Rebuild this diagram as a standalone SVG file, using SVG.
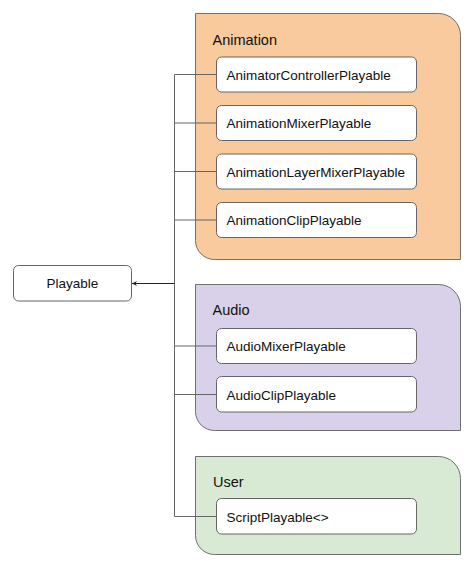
<svg xmlns="http://www.w3.org/2000/svg" width="474" height="567" viewBox="0 0 474 567">
<style>
.grp{stroke:#6f6f6f;stroke-width:1}
.box{fill:#ffffff;stroke:#666666;stroke-width:1}
.t{font-family:"Liberation Sans",Arial,sans-serif;font-size:13.5px;fill:#111111}
.h{font-family:"Liberation Sans",Arial,sans-serif;font-size:14.5px;fill:#111111}
.c{fill:none;stroke:#666666;stroke-width:1}
</style>
<defs>
<marker id="arr" markerWidth="6" markerHeight="6" refX="5" refY="3" orient="auto" markerUnits="userSpaceOnUse">
<path d="M5,3 L0,0.5 L1.5,3 L0,5.5 Z" fill="#222222"/>
</marker>
</defs>
<rect width="474" height="567" fill="#ffffff"/>
<g id="group-animation">
<path class="grp" fill="#f8ca9d" d="M195.5,13.5 H438.5 A22,22 0 0 1 460.5,35.5 V259.5 H214.5 A19,19 0 0 1 195.5,240.5 Z"/>
<text class="h" x="212.5" y="45">Animation</text>
</g>
<g id="group-audio">
<path class="grp" fill="#d9d1e9" d="M195.5,284.5 H438.5 A22,22 0 0 1 460.5,306.5 V430.5 H214.5 A19,19 0 0 1 195.5,411.5 Z"/>
<text class="h" x="212.5" y="315">Audio</text>
</g>
<g id="group-user">
<path class="grp" fill="#d8e9d4" d="M195.5,456.5 H438.5 A22,22 0 0 1 460.5,478.5 V554.5 H214.5 A19,19 0 0 1 195.5,535.5 Z"/>
<text class="h" x="213" y="487">User</text>
</g>
<g id="connectors">
<path class="c" d="M174.5,74.5 V516.5"/>
<path class="c" d="M174.5,74.5 H216.5"/>
<path class="c" d="M174.5,123 H216.5"/>
<path class="c" d="M174.5,171.5 H216.5"/>
<path class="c" d="M174.5,220 H216.5"/>
<path class="c" d="M174.5,346 H216.5"/>
<path class="c" d="M174.5,394.5 H216.5"/>
<path class="c" d="M174.5,516.5 H216.5"/>
<path d="M174.5,283.5 H132" fill="none" stroke="#222222" stroke-width="1" marker-end="url(#arr)"/>
</g>
<g id="node-playable">
<rect class="box" x="13.5" y="265.5" width="118" height="35.5" rx="5"/>
<text class="t" x="72.5" y="288" text-anchor="middle">Playable</text>
</g>
<g id="node-animatorcontroller">
<rect class="box" x="216.5" y="57" width="200" height="35" rx="5"/>
<text class="t" x="226.5" y="79.5">AnimatorControllerPlayable</text>
</g>
<g id="node-animationmixer">
<rect class="box" x="216.5" y="105.5" width="200" height="35" rx="5"/>
<text class="t" x="226.5" y="128">AnimationMixerPlayable</text>
</g>
<g id="node-animationlayermixer">
<rect class="box" x="216.5" y="154" width="200" height="35" rx="5"/>
<text class="t" x="226.5" y="176.5">AnimationLayerMixerPlayable</text>
</g>
<g id="node-animationclip">
<rect class="box" x="216.5" y="202.5" width="200" height="35" rx="5"/>
<text class="t" x="226.5" y="225">AnimationClipPlayable</text>
</g>
<g id="node-audiomixer">
<rect class="box" x="216.5" y="328.5" width="200" height="35" rx="5"/>
<text class="t" x="226.5" y="351">AudioMixerPlayable</text>
</g>
<g id="node-audioclip">
<rect class="box" x="216.5" y="376.5" width="200" height="35.5" rx="5"/>
<text class="t" x="226.5" y="399.5">AudioClipPlayable</text>
</g>
<g id="node-scriptplayable">
<rect class="box" x="216.5" y="498.5" width="200" height="35.5" rx="5"/>
<text class="t" x="226.5" y="521.5">ScriptPlayable&lt;&gt;</text>
</g>
</svg>
